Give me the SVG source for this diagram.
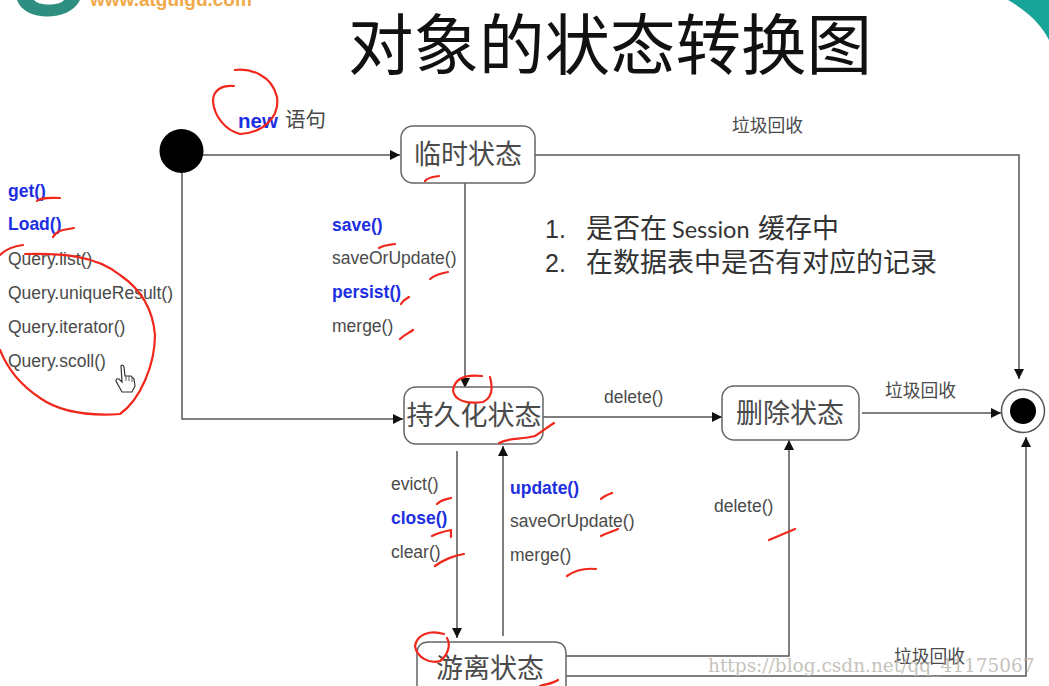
<svg xmlns="http://www.w3.org/2000/svg" width="1049" height="686" viewBox="0 0 1049 686">
<defs>
<marker id="arr" markerUnits="userSpaceOnUse" markerWidth="11" markerHeight="11" refX="10" refY="5.500" orient="auto"><path d="M0 0.500L10 5.500L0 10.500Z" fill="#111"/></marker>
</defs>
<style>
text{font-family:"Liberation Sans","Noto Sans CJK SC",sans-serif}
.m{font-size:17.500px;fill:#4a4a4a}
.b{font-size:17.500px;fill:#1d2fe0;font-weight:700}
.g{font-size:17.800px;fill:#4a4a4a}
.s{font-size:27px;fill:#4a4a4a;text-anchor:middle}
.l{font-size:27px;fill:#333}
.box{fill:#fff;stroke:#666;stroke-width:1.5}
.c{fill:none;stroke:#555;stroke-width:1.5;marker-end:url(#arr)}
.r{fill:none;stroke:#f0281c;stroke-width:2.2;stroke-linecap:round;stroke-linejoin:round}
</style>
<rect width="1049" height="686" fill="#fff"/>
<g id="header">
<path d="M17 0C24 22 70 22 80 0L64 0C60 6 38 6 34 0Z" fill="#2e8f80"/>
<text x="90" y="6" style="font-size:19px;font-weight:700;fill:#f0a848">www.atguigu.com</text>
<path d="M1008 0C1025 10 1040 22 1049 40L1049 0Z" fill="#17a398"/>
<text x="348" y="69" style="font-size:65.500px;fill:#111">对象的状态转换图</text>
</g>
<g id="connectors">
<path class="c" d="M203 155H400"/>
<path class="c" d="M535 155H1019V379"/>
<path class="c" d="M182 173V419H403"/>
<path class="c" d="M465 183V388"/>
<path class="c" d="M543 417H722"/>
<path class="c" d="M862 413H1001"/>
<path class="c" d="M457 451V638"/>
<path class="c" d="M503 636V446"/>
<path class="c" d="M566 656H789V440"/>
<path class="c" d="M566 676H1026V437"/>
</g>
<g id="start"><circle cx="181.500" cy="151" r="22" fill="#000"/></g>
<g id="end"><circle cx="1023" cy="411" r="21.500" fill="#fff" stroke="#555" stroke-width="1.5"/><circle cx="1023" cy="411" r="13" fill="#000"/></g>
<g id="temp"><rect class="box" x="401" y="126" width="134" height="57" rx="12"/><text class="s" x="468" y="164">临时状态</text></g>
<g id="persist"><rect class="box" x="404" y="387" width="139" height="57" rx="12"/><text class="s" x="474" y="425">持久化状态</text></g>
<g id="deleted"><rect class="box" x="722" y="386" width="137" height="54" rx="12"/><text class="s" x="790" y="423">删除状态</text></g>
<g id="detached"><path class="box" d="M417 686V654Q417 642 429 642H554Q566 642 566 654V686"/><text class="s" x="490" y="678">游离状态</text></g>
<g id="labels">
<text class="b" x="238" y="128" style="font-size:20.500px">new</text><text class="g" x="285" y="127" style="font-size:20.500px">语句</text>
<text class="g" x="732" y="132">垃圾回收</text><text class="g" x="885" y="397">垃圾回收</text><text class="g" x="894" y="663">垃圾回收</text>
<text class="b" x="8" y="197">get()</text><text class="b" x="8" y="230">Load()</text>
<text class="m" x="8" y="265">Query.list()</text><text class="m" x="8" y="299">Query.uniqueResult()</text><text class="m" x="8" y="333">Query.iterator()</text><text class="m" x="8" y="367">Query.scoll()</text>
<text class="b" x="332" y="231">save()</text><text class="m" x="332" y="264">saveOrUpdate()</text><text class="b" x="332" y="298">persist()</text><text class="m" x="332" y="332">merge()</text>
<text class="m" x="604" y="403">delete()</text><text class="m" x="714" y="512">delete()</text>
<text class="m" x="391" y="490">evict()</text><text class="b" x="391" y="524">close()</text><text class="m" x="391" y="558">clear()</text>
<text class="b" x="510" y="494">update()</text><text class="m" x="510" y="527">saveOrUpdate()</text><text class="m" x="510" y="561">merge()</text>
<text class="l" x="545" y="238" style="font-size:25px">1.</text><text class="l" x="586" y="238">是否在</text><text class="l" x="672" y="238" style="font-size:23.500px;font-family:Lato,sans-serif">Session</text><text class="l" x="758" y="238">缓存中</text>
<text class="l" x="545" y="272" style="font-size:25px">2.</text><text class="l" x="586" y="272">在数据表中是否有对应的记录</text>
</g>
<g id="annotations">
<path class="r" d="M235 70C250 68 272 75 277 97C280 118 262 133 240 134C225 130 214 116 213 101C213 90 222 85 234 86"/>
<path class="r" d="M37 201C42 197 50 198 60 198M53 237C58 229 65 230 74 228M0 255C6 249 14 246 23 245M25 254C60 253 95 255 120 275C142 290 153 310 155 335C155 365 140 400 120 414C90 416 60 412 40 398C20 385 8 370 0 350"/>
<path class="r" d="M425 181C428 177 434 177 439 176M379 248C384 245 390 245 395 244M430 279C435 275 442 273 448 272M401 304C403 300 406 299 409 297M400 339C404 335 409 333 413 330"/>
<path class="r" d="M482 376C465 374 455 378 453 390C454 402 470 404 483 402C492 398 493 388 490 377M499 443C510 437 520 440 535 436C542 432 546 428 554 423"/>
<path class="r" d="M437 504C442 499 448 499 451 498M432 536C440 532 446 531 451 530V537M435 566C443 560 455 555 464 554M601 499C604 496 607 495 612 493M601 536C606 533 612 532 618 529M567 576C574 571 585 568 596 569M769 540L795 529"/>
<path class="r" d="M444 634C430 630 417 634 415 646C417 658 430 664 440 661C448 655 451 645 447 638M540 686C546 684 552 684 558 680"/>
</g>
<g id="cursor"><path d="M121 366Q123 364 124 367L125 376L131 376L134 379L135 386L132 392H122L116 381Q116 378 119 379L122 382Z" fill="#fff" stroke="#333" stroke-width="1.200"/><path d="M126 376V381M129 376V381M132 378V382" stroke="#333" stroke-width="0.800" fill="none"/></g>
<text x="708" y="672" style="font-size:18.500px;fill:#b9b5ac;font-family:'DejaVu Serif','Liberation Serif',serif;opacity:.8">https://blog.csdn.net/qq_41175067</text>
</svg>
